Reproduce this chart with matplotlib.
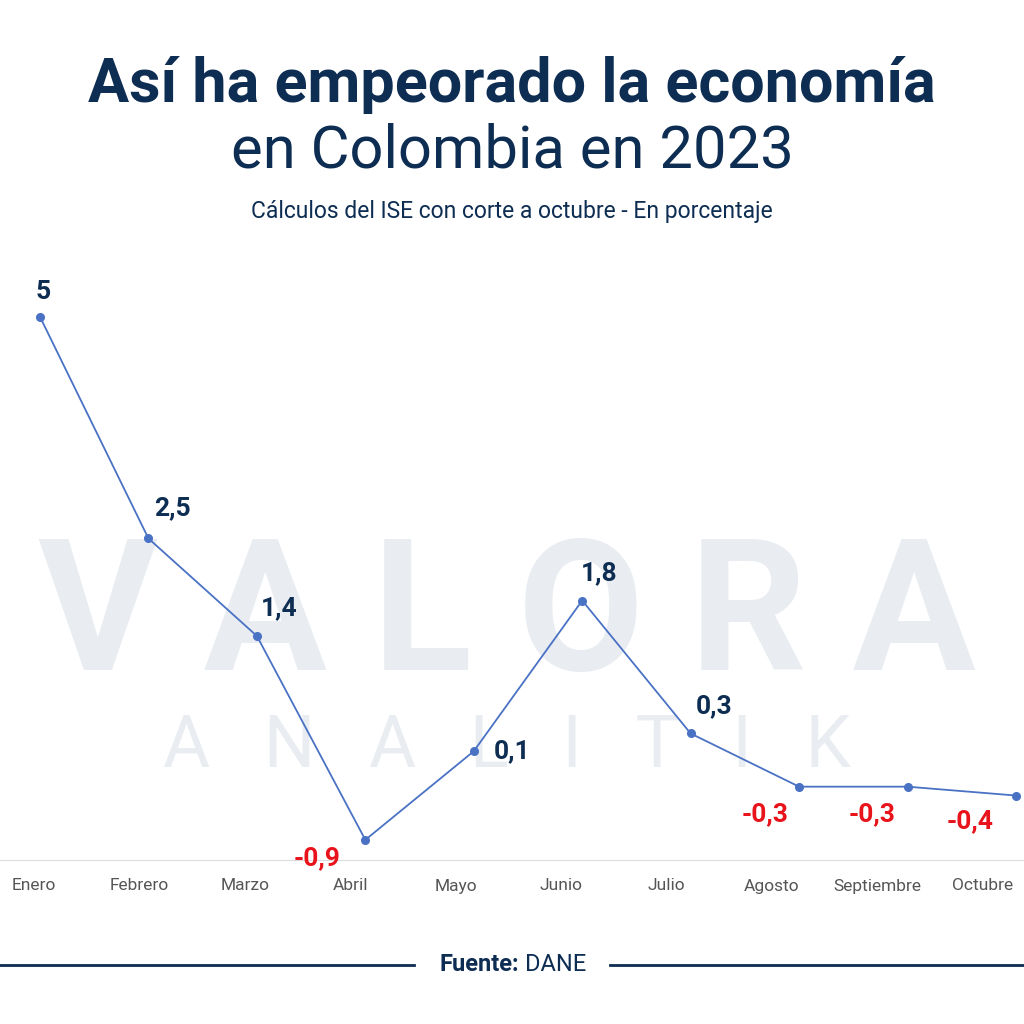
import matplotlib.pyplot as plt

meses = ['Enero', 'Febrero', 'Marzo', 'Abril', 'Mayo', 'Junio', 'Julio',
         'Agosto', 'Septiembre', 'Octubre']
valores = [5, 2.5, 1.4, -0.9, 0.1, 1.8, 0.3, -0.3, -0.3, -0.4]
etiquetas = ['5', '2,5', '1,4', '-0,9', '0,1', '1,8', '0,3', '-0,3', '-0,3', '-0,4']

navy = '#0d2d52'
fig = plt.figure(figsize=(10.24, 10.24), dpi=100)
fig.patch.set_facecolor('white')
plt.rcParams['font.family'] = 'Roboto'

# watermark (drawn in a background axes)
bg = fig.add_axes([0, 0, 1, 1], zorder=0)
bg.axis('off')
bg.text(0.495, 0.395, 'V A L O R A', ha='center', va='center', fontsize=132,
        fontweight='bold', color='#e9ecf1')
bg.text(0.495, 0.27, 'A   N   A   L   I   T   I   K', ha='center', va='center',
        fontsize=52, color='#e9ecf1')

# titles
fig.text(0.5, 0.917, 'Así ha empeorado la economía', ha='center', va='center',
         fontsize=44, fontweight='bold', color=navy)
fig.text(0.5, 0.853, 'en Colombia en 2023', ha='center', va='center',
         fontsize=43, color=navy)
fig.text(0.5, 0.793, 'Cálculos del ISE con corte a octubre - En porcentaje',
         ha='center', va='center', fontsize=16.5, color=navy)

ax = fig.add_axes([0, 0.160, 1, 0.596], zorder=1)
ax.patch.set_alpha(0)
x = list(range(len(meses)))
ax.plot(x, valores, color='#4a72c4', lw=1.3, marker='o', ms=5.5)
ax.set_xlim(-0.369, 9.074)
ax.set_ylim(-1.129, 5.756)

offs = [(3, 25), (24, 30), (22, 28), (-48, -18), (38, 0), (17, 27), (23, 27),
        (-34, -28), (-35, -28), (-46, -26)]
for i, (v, t, o) in enumerate(zip(valores, etiquetas, offs)):
    ax.annotate(t, (i, v), xytext=(o[0] * 0.72, o[1] * 0.72),
                textcoords='offset points', ha='center', va='center',
                fontsize=19, fontweight='bold',
                color='#e8131b' if v < 0 else navy)

for s in ['top', 'right', 'left']:
    ax.spines[s].set_visible(False)
ax.spines['bottom'].set_color('#dddddd')
ax.set_yticks([])
ax.set_xticks([])

# month labels, evenly spread across the width
for i, m in enumerate(meses):
    fig.text((34 + 105.4 * i) / 1024, 1 - 886 / 1024, m, ha='center', va='center',
             fontsize=12.5, color='#555555')

# footer
fig.add_artist(plt.Line2D([0, 0.404], [0.058, 0.058], color=navy, lw=2))
fig.add_artist(plt.Line2D([0.596, 1], [0.058, 0.058], color=navy, lw=2))
fig.text(0.507, 0.058, 'Fuente:', ha='right', va='center', fontsize=17,
         fontweight='bold', color=navy)
fig.text(0.513, 0.058, 'DANE', ha='left', va='center', fontsize=17, color=navy)

fig.savefig('out.png', dpi=100)
